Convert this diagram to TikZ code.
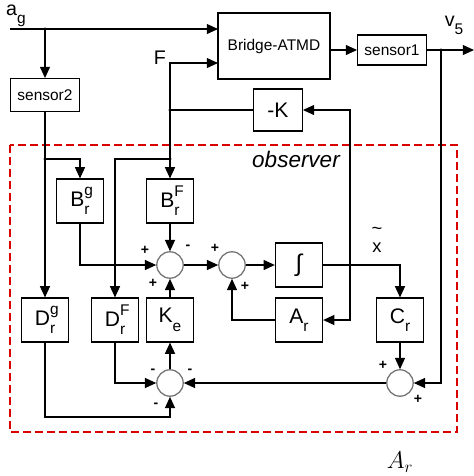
\documentclass[tikz,border=0pt]{standalone}
\usepackage{amsmath}
\usepackage{fontspec}
\setmainfont{Liberation Sans}
\usetikzlibrary{arrows.meta,positioning,calc}
\tikzset{
  fx/.style={x=0.25mm, y=-0.25mm, font=\fontsize{11}{13}\selectfont},
  b box/.style={draw, line width=0.8pt, minimum width=11.8mm, minimum height=11mm, inner sep=0pt, font=\fontsize{15}{17}\selectfont},
  b wide/.style={b box, font=\fontsize{11}{13}\selectfont},
  b sum/.style={draw=black!55, line width=0.9pt, circle, minimum size=6.6mm, inner sep=0pt},
  b sign/.style={font=\fontsize{10}{10}\selectfont\bfseries, inner sep=0pt},
  b lab/.style={font=\fontsize{14}{16}\selectfont, inner sep=0pt},
  b arr/.style={-{Triangle[length=2.8mm,width=2.5mm]}, line width=0.8pt},
  b line/.style={line width=0.8pt},
  b dot/.style={circle, fill, inner sep=0pt, minimum size=0.8mm},
  u frame/.style={draw=red!85!black, line width=1pt, dash pattern=on 2mm off 1mm},
}
% letter with stacked super- and subscript
\newcommand{\mtx}[3]{#1\rlap{\raisebox{0.5em}{\fontsize{11}{11}\selectfont #2}}\raisebox{-0.4em}{\fontsize{11}{11}\selectfont #3}}
\newcommand{\sbs}[2]{#1\raisebox{-0.4em}{\fontsize{11}{11}\selectfont #2}}

\begin{document}
\begin{tikzpicture}[fx]
\useasboundingbox (0,0) rectangle (474,476);
% observer frame
\draw[u frame] (10,145) rectangle (457,432);
\node[font=\fontsize{16}{18}\selectfont\itshape, inner sep=0pt] (obs) at (296,159) {observer};
% plant side
\node[b wide, minimum width=28mm, minimum height=16.5mm] (bridge) at (274,46) {Bridge-ATMD};
\node[b wide, minimum width=17.2mm, minimum height=7.5mm] (sens1) at (392,50) {sensor1};
\node[b wide, minimum width=17.2mm, minimum height=8.2mm] (sens2) at (45,95) {sensor2};
\node[b wide, minimum width=12.2mm, minimum height=10.5mm, font=\fontsize{15}{17}\selectfont] (negK) at (278,110) {-K};
% observer blocks
\node[b box] (Brg) at (80,201) {\mtx{B}{g}{r}};
\node[b box] (BrF) at (170,201) {\mtx{B}{F}{r}};
\node[b box] (Drg) at (45,320) {\mtx{D}{g}{r}};
\node[b box] (DrF) at (115,320) {\mtx{D}{F}{r}};
\node[b box] (Ke) at (170,320) {\sbs{K}{e}};
\node[b box, font=\fontsize{17}{19}\selectfont] (intg) at (299,265) {∫};
\node[b box] (Ar) at (299,320) {\sbs{A}{r}};
\node[b box] (Cr) at (400,320) {\sbs{C}{r}};
\node[b sum] (s1) at (170,265) {};
\node[b sum] (s2) at (232,265) {};
\node[b sum] (s3) at (400,383) {};
\node[b sum] (s4) at (170,383) {};
% junctions and free ends
\coordinate (agin) at (10,29);
\coordinate (bin1) at (218,29);
\coordinate (bin2) at (218,63);
\coordinate (vout) at (474,50);
\coordinate (j1) at (45,29);
\coordinate (j2) at (45,159);
\coordinate (j3) at (441,50);
\coordinate (jK) at (170,110);
\coordinate (jF) at (170,159);
\coordinate (jx) at (350,265);
\coordinate (cD) at (170,417);
\foreach \j in {j1,j2,j3,jK,jF,jx} \node[b dot] at (\j) {};
% labels
\node[b lab] (ag) at (16,16) {\sbs{a}{g}};
\node[b lab] (Flab) at (160,58) {F};
\node[b lab] (v5) at (454,25) {\sbs{v}{5}};
\node[b lab, align=center, font=\fontsize{13}{13}\selectfont] (xt) at (377,240) {\~{}\\x};
\node[font=\fontsize{17}{19}\selectfont, inner sep=0pt] (Arlab) at (400,462) {$A_r$};
% signs
\node[b sign] at (145,250) {+};
\node[b sign] at (188,247) {-};
\node[b sign] at (153,283) {+};
\node[b sign] at (215,248) {+};
\node[b sign] at (245,286) {+};
\node[b sign] at (383,365) {+};
\node[b sign] at (418,399) {+};
\node[b sign] at (153,371) {-};
\node[b sign] at (190,371) {-};
\node[b sign] at (156,405) {-};
% connectors
\draw[b arr] (agin) -- (bin1);
\draw[b arr] (j1) -- (sens2);
\draw[b arr] (sens2) -- (Drg);
\draw[b arr] (j2) -| (Brg);
\draw[b arr] (bridge.east |- sens1) -- (sens1);
\draw[b arr] (sens1) -- (vout);
\draw[b arr] (j3) |- (s3);
\draw[b line] (negK) -- (jK);
\draw[b arr] (jK) |- (bin2);
\draw[b arr] (jK) -- (BrF);
\draw[b arr] (jF) -| (DrF);
\draw[b arr] (Brg) |- (s1);
\draw[b arr] (BrF) -- (s1);
\draw[b arr] (Ke) -- (s1);
\draw[b arr] (s1) -- (s2);
\draw[b arr] (s2) -- (intg);
\draw[b arr] (intg) -| (Cr);
\draw[b arr] (jx) |- (negK);
\draw[b arr] (jx) |- (Ar);
\draw[b arr] (Ar) -| (s2);
\draw[b arr] (Cr) -- (s3);
\draw[b arr] (s3) -- (s4);
\draw[b arr] (s4) -- (Ke);
\draw[b arr] (DrF) |- (s4);
\draw[b arr] (Drg) |- (cD) -- (s4);
\end{tikzpicture}
\end{document}
